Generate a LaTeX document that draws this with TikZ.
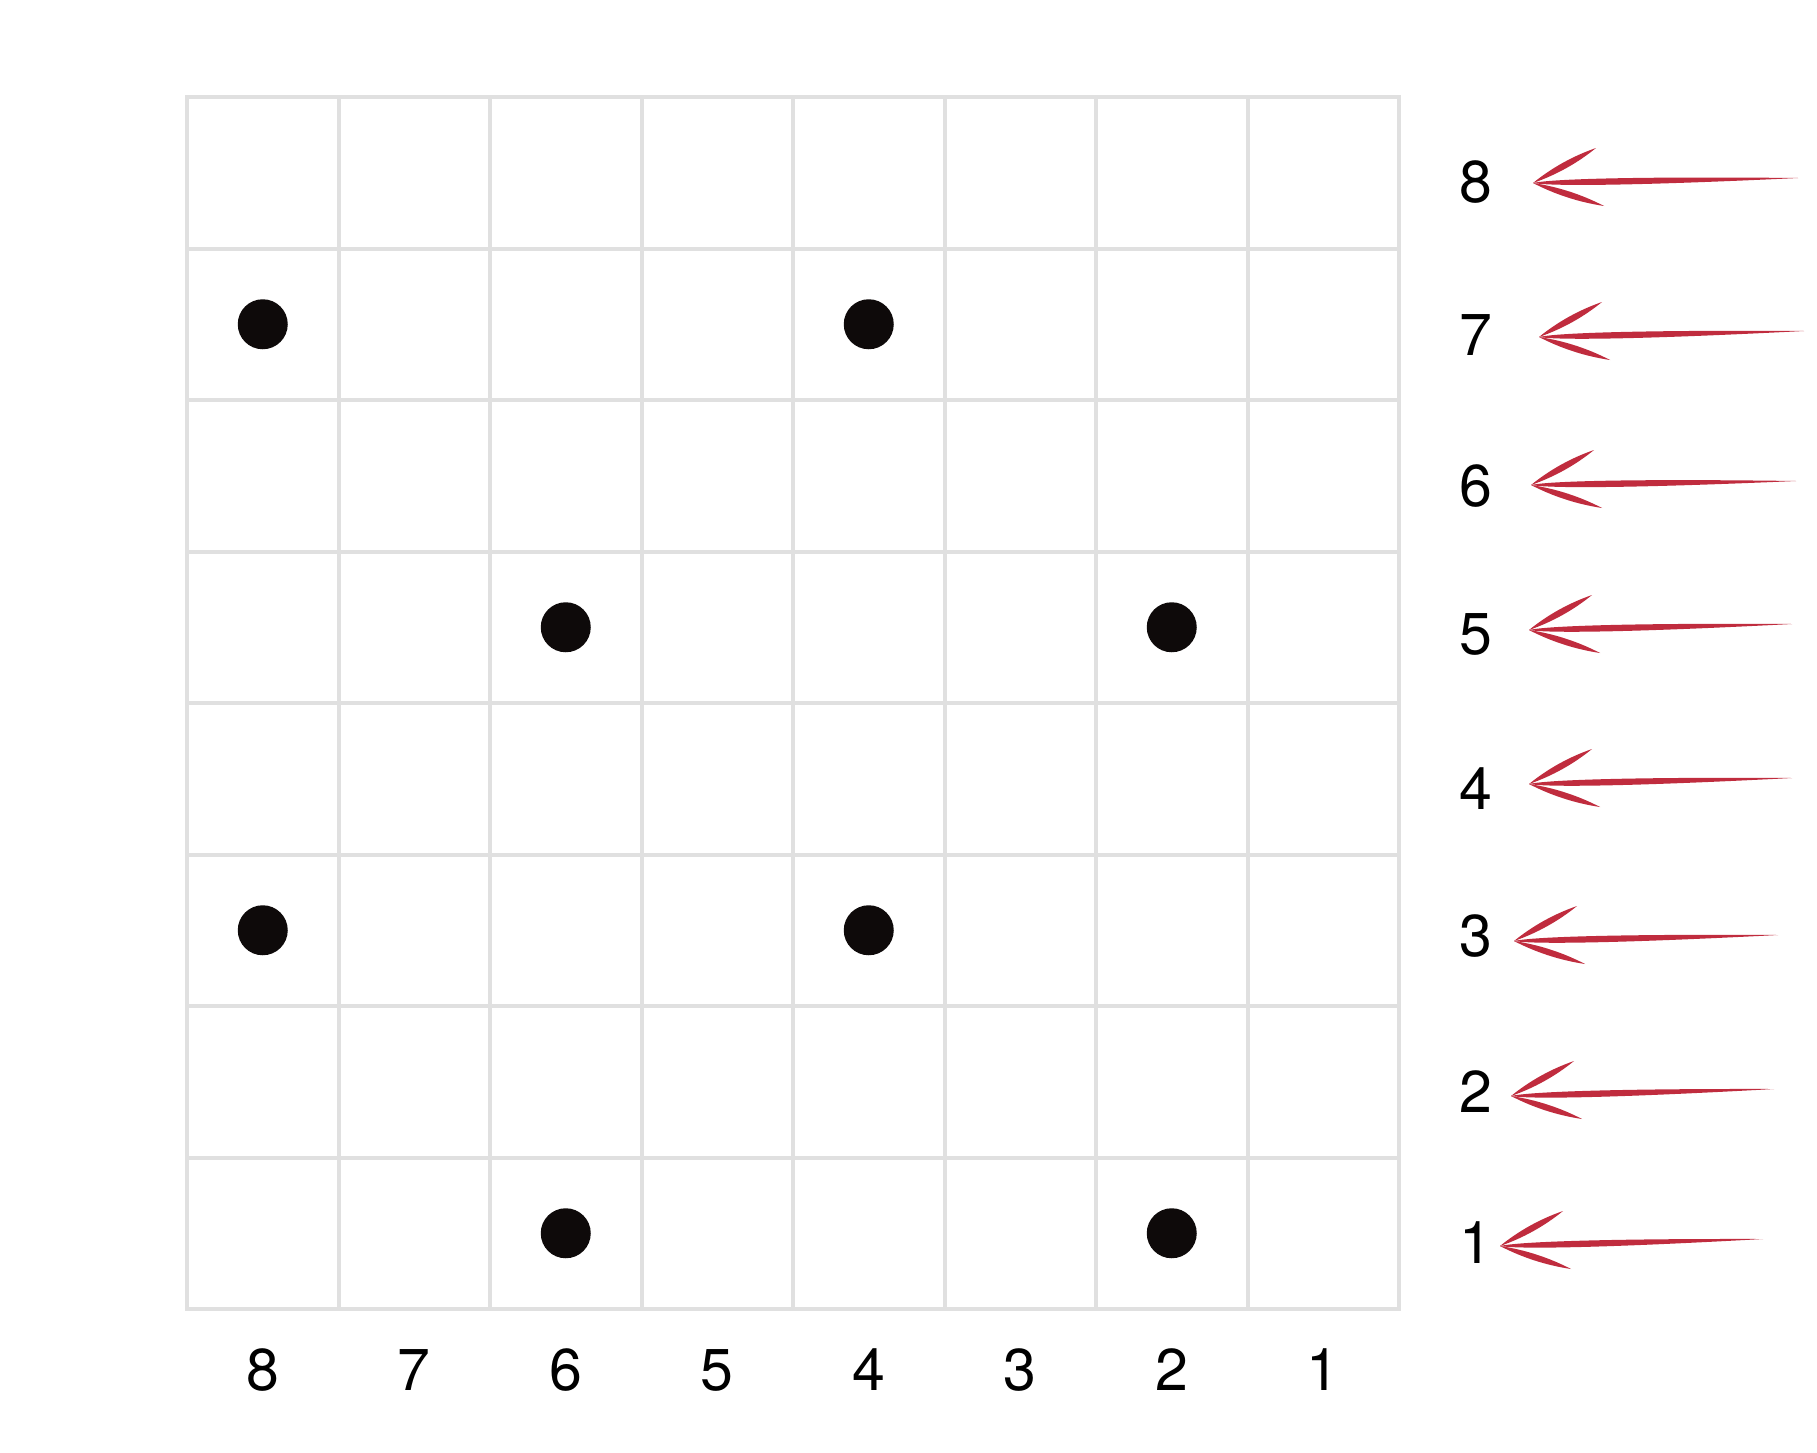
\documentclass[tikz,border=0pt]{standalone}
\usepackage{fontspec}
\setmainfont{TeX Gyre Heros}
\usetikzlibrary{calc}
\definecolor{gridgray}{RGB}{224,224,224}
\definecolor{arrowred}{RGB}{192,44,62}
\definecolor{dotblack}{RGB}{14,10,10}
\begin{document}
\begin{tikzpicture}[x=1pt,y=-1pt,
  gridline/.style={draw=gridgray,line width=4pt},
  numlabel/.style={font=\fontsize{59}{70}\selectfont,anchor=base,inner sep=0pt},
  stone/.style={circle,fill=dotblack,minimum size=50pt,inner sep=0pt},
  redink/.style={fill=arrowred,draw=none}]
\useasboundingbox[fill=white] (0,0) rectangle (1817,1453);
% grid
\foreach \i in {1,...,7} {
  \draw[gridline] ({187+151.5*\i},97) -- ({187+151.5*\i},1309);
  \draw[gridline] (187,{97+151.5*\i}) -- (1399,{97+151.5*\i});
}
\draw[gridline] (187,97) rectangle (1399,1309);
% stones
\foreach \c/\r in {8/7,4/7,6/5,2/5,8/3,4/3,6/1,2/1}
  \node[stone] (d\c\r) at ({187+151.5*(8-\c)+75.75},{97+151.5*(8-\r)+75.75}) {};
% column labels
\foreach \c in {1,...,8}
  \node[numlabel] (col\c) at ({187+151.5*(8-\c)+75.75},1390) {\c};
% row labels
\foreach \r/\b in {8/202,7/355,6/506,5/654,4/809,3/956,2/1112,1/1263}
  \node[numlabel] (row\r) at (1476,\b) {\r};
% arrows
\foreach \r/\tx/\ty/\ex/\ey in {8/1533/183/1798/178,7/1539/337/1804/331,6/1531/485/1796/481,5/1529/630/1792/624,4/1529/784/1792/778,3/1514/941/1778/935,2/1511/1096/1774/1089,1/1500/1246/1763/1239}
{
  \coordinate (tip\r) at (\tx,\ty);
  \coordinate (tail\r) at (\ex,\ey);
  \fill[redink] (tip\r) .. controls ($(tip\r)!0.08!(tail\r)+(0,-4.2)$) and ($(tip\r)!0.45!(tail\r)+(0,-4.2)$) .. (tail\r)
     .. controls ($(tip\r)!0.45!(tail\r)+(0,4.2)$) and ($(tip\r)!0.08!(tail\r)+(0,4.2)$) .. (tip\r) -- cycle;
  \fill[redink] (tip\r) .. controls ($(tip\r)+(23.0,-8.0)$) and ($(tip\r)+(44.0,-19.6)$) .. ($(tip\r)+(63,-35)$)
     .. controls ($(tip\r)+(40.0,-27.0)$) and ($(tip\r)+(19.0,-15.4)$) .. (tip\r) -- cycle;
  \fill[redink] (tip\r) .. controls ($(tip\r)+(22.4,11.6)$) and ($(tip\r)+(46.0,19.2)$) .. ($(tip\r)+(71,23)$)
     .. controls ($(tip\r)+(48.6,11.4)$) and ($(tip\r)+(25.0,3.8)$) .. (tip\r) -- cycle;
}
\end{tikzpicture}
\end{document}
